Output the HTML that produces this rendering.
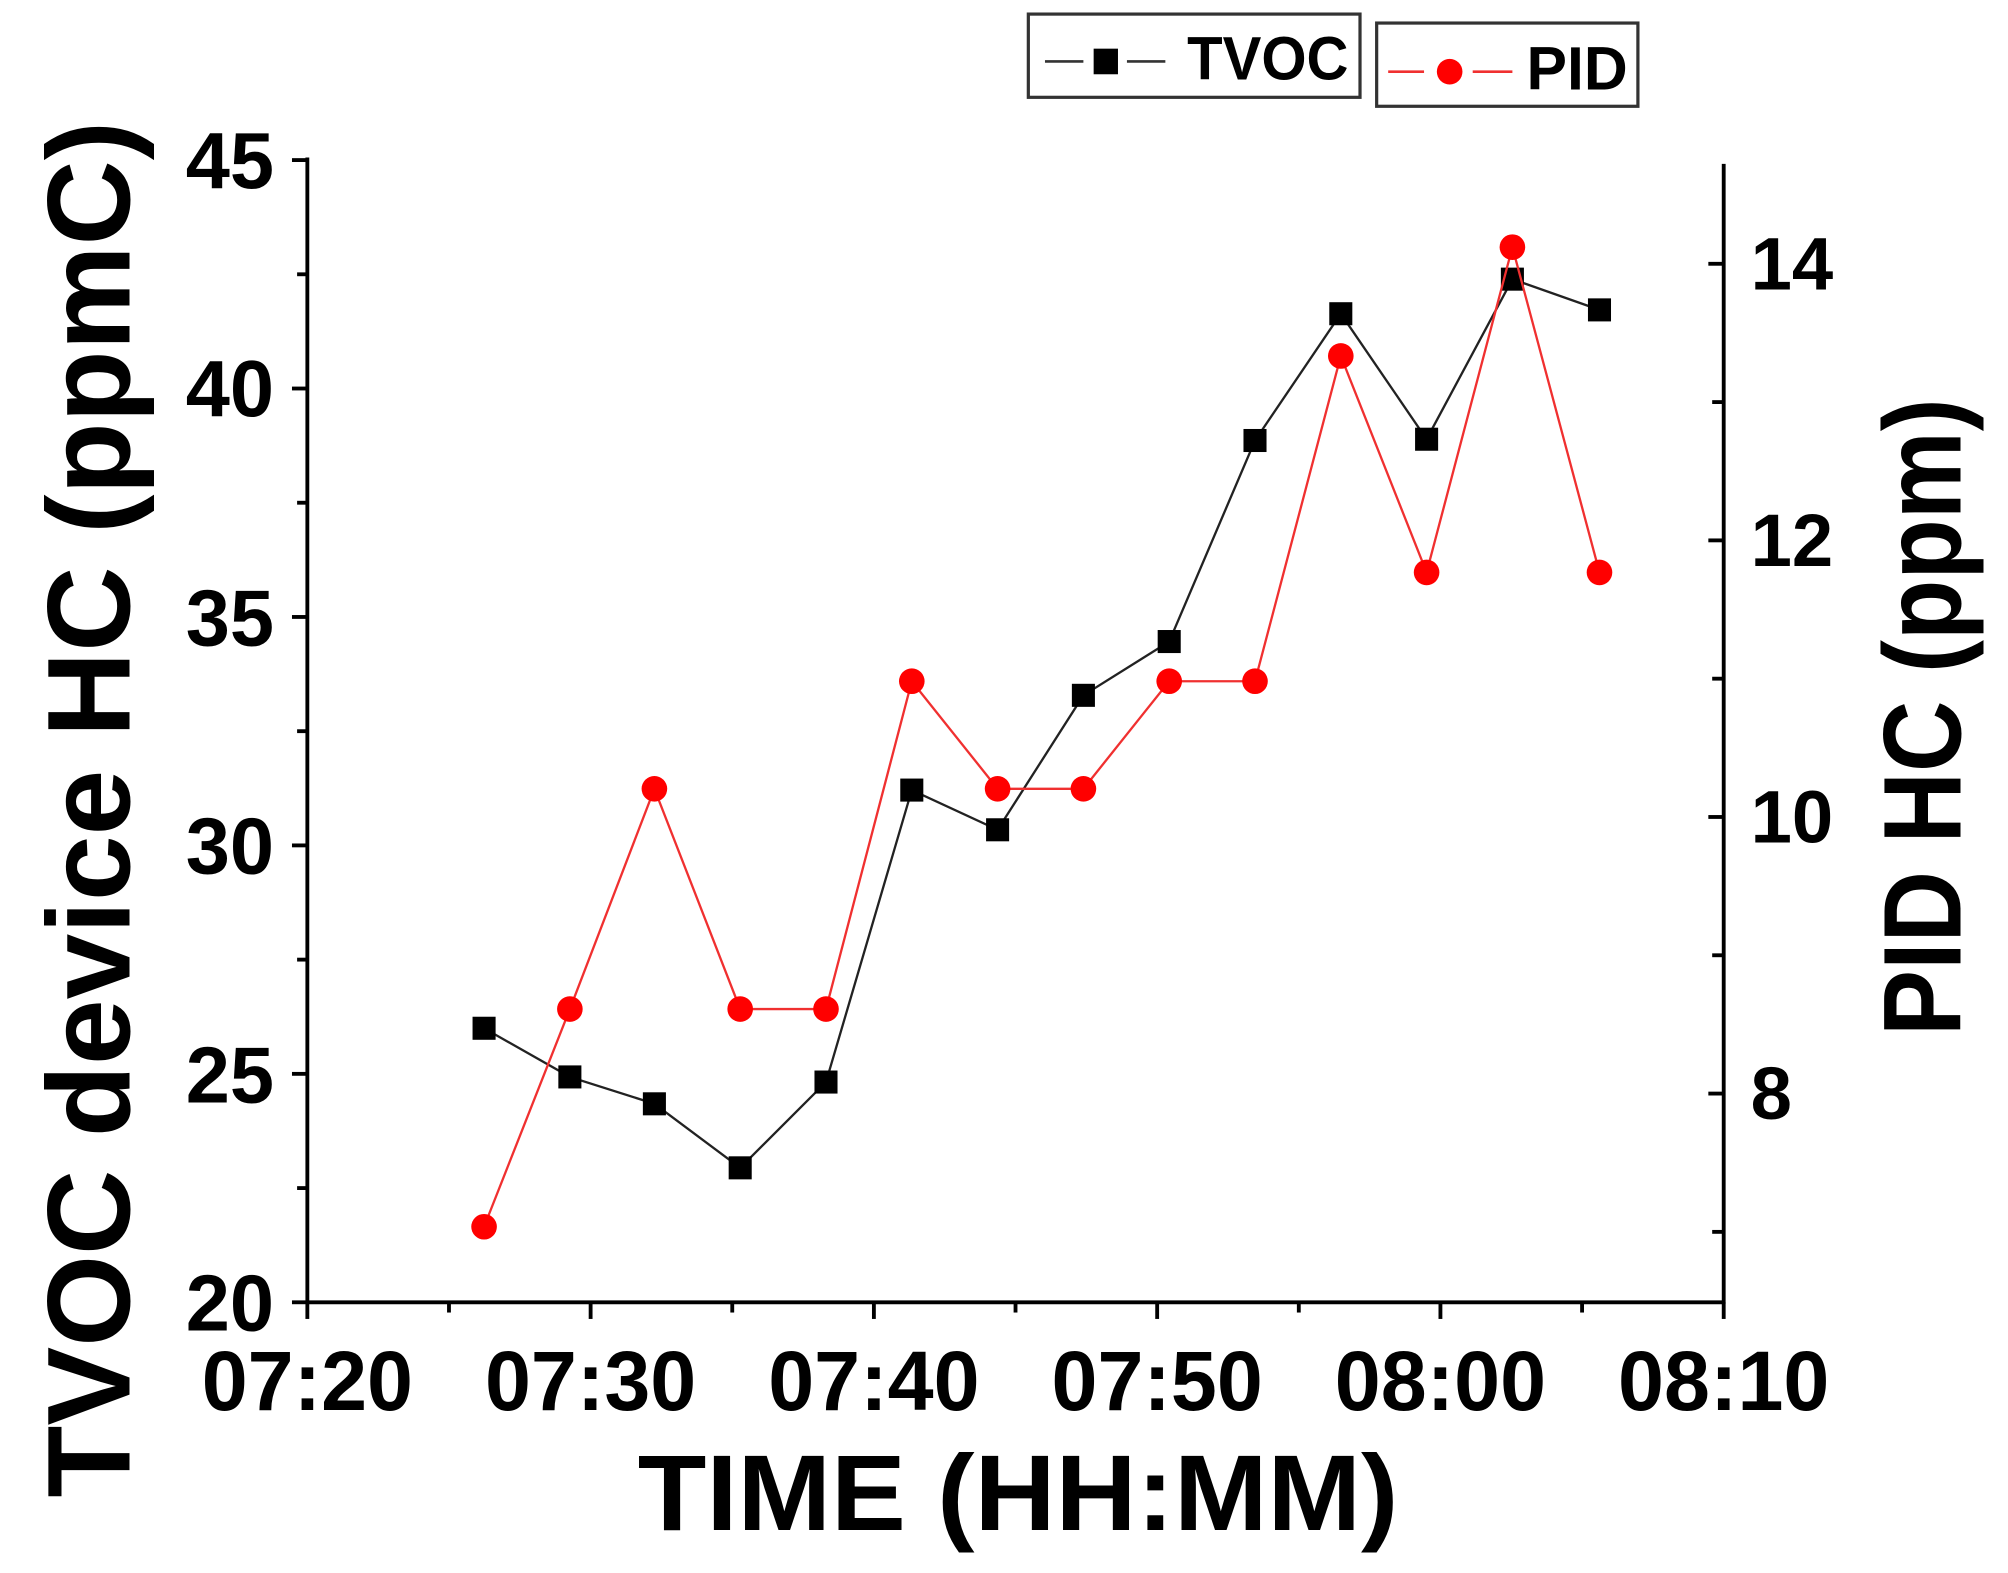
<!DOCTYPE html>
<html><head><meta charset="utf-8"><style>html,body{margin:0;padding:0;background:#fff}svg{display:block}</style></head>
<body>
<svg width="2008" height="1573" viewBox="0 0 1568 1228.4" preserveAspectRatio="none" xmlns="http://www.w3.org/2000/svg" font-family="Liberation Sans, Arial, sans-serif" font-weight="bold">
<rect width="1568" height="1228.4" fill="#fff"/>
<!-- axes -->
<g stroke="#000" stroke-width="3" fill="none">
<line x1="240" y1="123" x2="240" y2="1018"/>
<line x1="240" y1="1017" x2="1346" y2="1017"/>
<line x1="1346" y1="128" x2="1346" y2="1018"/>
<!-- x ticks -->
<line x1="240" y1="1017" x2="240" y2="1030"/>
<line x1="461.2" y1="1017" x2="461.2" y2="1030"/>
<line x1="682.4" y1="1017" x2="682.4" y2="1030"/>
<line x1="903.6" y1="1017" x2="903.6" y2="1030"/>
<line x1="1124.8" y1="1017" x2="1124.8" y2="1030"/>
<line x1="1346" y1="1017" x2="1346" y2="1030"/>
<line x1="350.6" y1="1017" x2="350.6" y2="1025"/>
<line x1="571.8" y1="1017" x2="571.8" y2="1025"/>
<line x1="793" y1="1017" x2="793" y2="1025"/>
<line x1="1014.2" y1="1017" x2="1014.2" y2="1025"/>
<line x1="1235.4" y1="1017" x2="1235.4" y2="1025"/>
<!-- left y ticks -->
<line x1="228" y1="1017" x2="240" y2="1017"/>
<line x1="228" y1="838.6" x2="240" y2="838.6"/>
<line x1="228" y1="660.2" x2="240" y2="660.2"/>
<line x1="228" y1="481.8" x2="240" y2="481.8"/>
<line x1="228" y1="303.4" x2="240" y2="303.4"/>
<line x1="228" y1="125" x2="240" y2="125"/>
<line x1="232" y1="927.8" x2="240" y2="927.8"/>
<line x1="232" y1="749.4" x2="240" y2="749.4"/>
<line x1="232" y1="571" x2="240" y2="571"/>
<line x1="232" y1="392.6" x2="240" y2="392.6"/>
<line x1="232" y1="214.2" x2="240" y2="214.2"/>
<!-- right y ticks -->
<line x1="1334" y1="854" x2="1346" y2="854"/>
<line x1="1334" y1="638" x2="1346" y2="638"/>
<line x1="1334" y1="422" x2="1346" y2="422"/>
<line x1="1334" y1="206" x2="1346" y2="206"/>
<line x1="1337" y1="962" x2="1346" y2="962"/>
<line x1="1337" y1="746" x2="1346" y2="746"/>
<line x1="1337" y1="530" x2="1346" y2="530"/>
<line x1="1337" y1="314" x2="1346" y2="314"/>
</g>
<!-- tick labels -->
<g font-size="66" text-anchor="middle">
<text x="240" y="1101" textLength="165" lengthAdjust="spacingAndGlyphs">07:20</text>
<text x="461.2" y="1101" textLength="165" lengthAdjust="spacingAndGlyphs">07:30</text>
<text x="682.4" y="1101" textLength="165" lengthAdjust="spacingAndGlyphs">07:40</text>
<text x="903.6" y="1101" textLength="165" lengthAdjust="spacingAndGlyphs">07:50</text>
<text x="1124.8" y="1101" textLength="165" lengthAdjust="spacingAndGlyphs">08:00</text>
<text x="1346" y="1101" textLength="165" lengthAdjust="spacingAndGlyphs">08:10</text>
</g>
<g font-size="62" text-anchor="end">
<text x="214" y="1039">20</text>
<text x="214" y="861">25</text>
<text x="214" y="682">30</text>
<text x="214" y="504">35</text>
<text x="214" y="325">40</text>
<text x="214" y="147">45</text>
</g>
<g font-size="58" text-anchor="start">
<text x="1367" y="874">8</text>
<text x="1367" y="658">10</text>
<text x="1367" y="442">12</text>
<text x="1367" y="226">14</text>
</g>
<!-- axis titles -->
<text transform="translate(101,632) rotate(-90)" font-size="92" text-anchor="middle" textLength="1075" lengthAdjust="spacingAndGlyphs">TVOC device HC (ppmC)</text>
<text x="795" y="1195" font-size="84" text-anchor="middle" textLength="594" lengthAdjust="spacingAndGlyphs">TIME (HH:MM)</text>
<text transform="translate(1531,560) rotate(-90)" font-size="86" text-anchor="middle" textLength="498" lengthAdjust="spacingAndGlyphs">PID HC (ppm)</text>
<!-- TVOC -->
<polyline fill="none" stroke="#222" stroke-width="1.8" points="378,803 445,841 511,862 578,912 645,845 712,617 779,648 846,543 913,501 980,344 1047,245 1114,343 1181,218 1249,242"/>
<g fill="#000">
<rect x="369" y="794" width="18" height="18"/><rect x="436" y="832" width="18" height="18"/><rect x="502" y="853" width="18" height="18"/><rect x="569" y="903" width="18" height="18"/><rect x="636" y="836" width="18" height="18"/><rect x="703" y="608" width="18" height="18"/><rect x="770" y="639" width="18" height="18"/><rect x="837" y="534" width="18" height="18"/><rect x="904" y="492" width="18" height="18"/><rect x="971" y="335" width="18" height="18"/><rect x="1038" y="236" width="18" height="18"/><rect x="1105" y="334" width="18" height="18"/><rect x="1172" y="209" width="18" height="18"/><rect x="1240" y="233" width="18" height="18"/>
</g>
<!-- PID -->
<polyline fill="none" stroke="#f03030" stroke-width="1.8" points="378,958 445,788 511,616 578,788 645,788 712,532 779,616 846,616 913,532 980,532 1047,278 1114,447 1181,193 1249,447"/>
<g fill="#f00">
<circle cx="378" cy="958" r="10"/><circle cx="445" cy="788" r="10"/><circle cx="511" cy="616" r="10"/><circle cx="578" cy="788" r="10"/><circle cx="645" cy="788" r="10"/><circle cx="712" cy="532" r="10"/><circle cx="779" cy="616" r="10"/><circle cx="846" cy="616" r="10"/><circle cx="913" cy="532" r="10"/><circle cx="980" cy="532" r="10"/><circle cx="1047" cy="278" r="10"/><circle cx="1114" cy="447" r="10"/><circle cx="1181" cy="193" r="10"/><circle cx="1249" cy="447" r="10"/>
</g>
<!-- legend -->
<rect x="803" y="11" width="259" height="65" fill="#fff" stroke="#333" stroke-width="2.5"/>
<line x1="816" y1="48" x2="846" y2="48" stroke="#333" stroke-width="2"/>
<rect x="854" y="38" width="19" height="20" fill="#000"/>
<line x1="880" y1="48" x2="910" y2="48" stroke="#333" stroke-width="2"/>
<text x="927" y="62" font-size="48" textLength="126" lengthAdjust="spacingAndGlyphs">TVOC</text>
<rect x="1075" y="18" width="204" height="65" fill="#fff" stroke="#333" stroke-width="2.5"/>
<line x1="1084" y1="56" x2="1112" y2="56" stroke="#f03030" stroke-width="2"/>
<circle cx="1132" cy="56" r="10" fill="#f00"/>
<line x1="1150" y1="56" x2="1181" y2="56" stroke="#f03030" stroke-width="2"/>
<text x="1192" y="70" font-size="48" textLength="79" lengthAdjust="spacingAndGlyphs">PID</text>
</svg>
</body></html>
